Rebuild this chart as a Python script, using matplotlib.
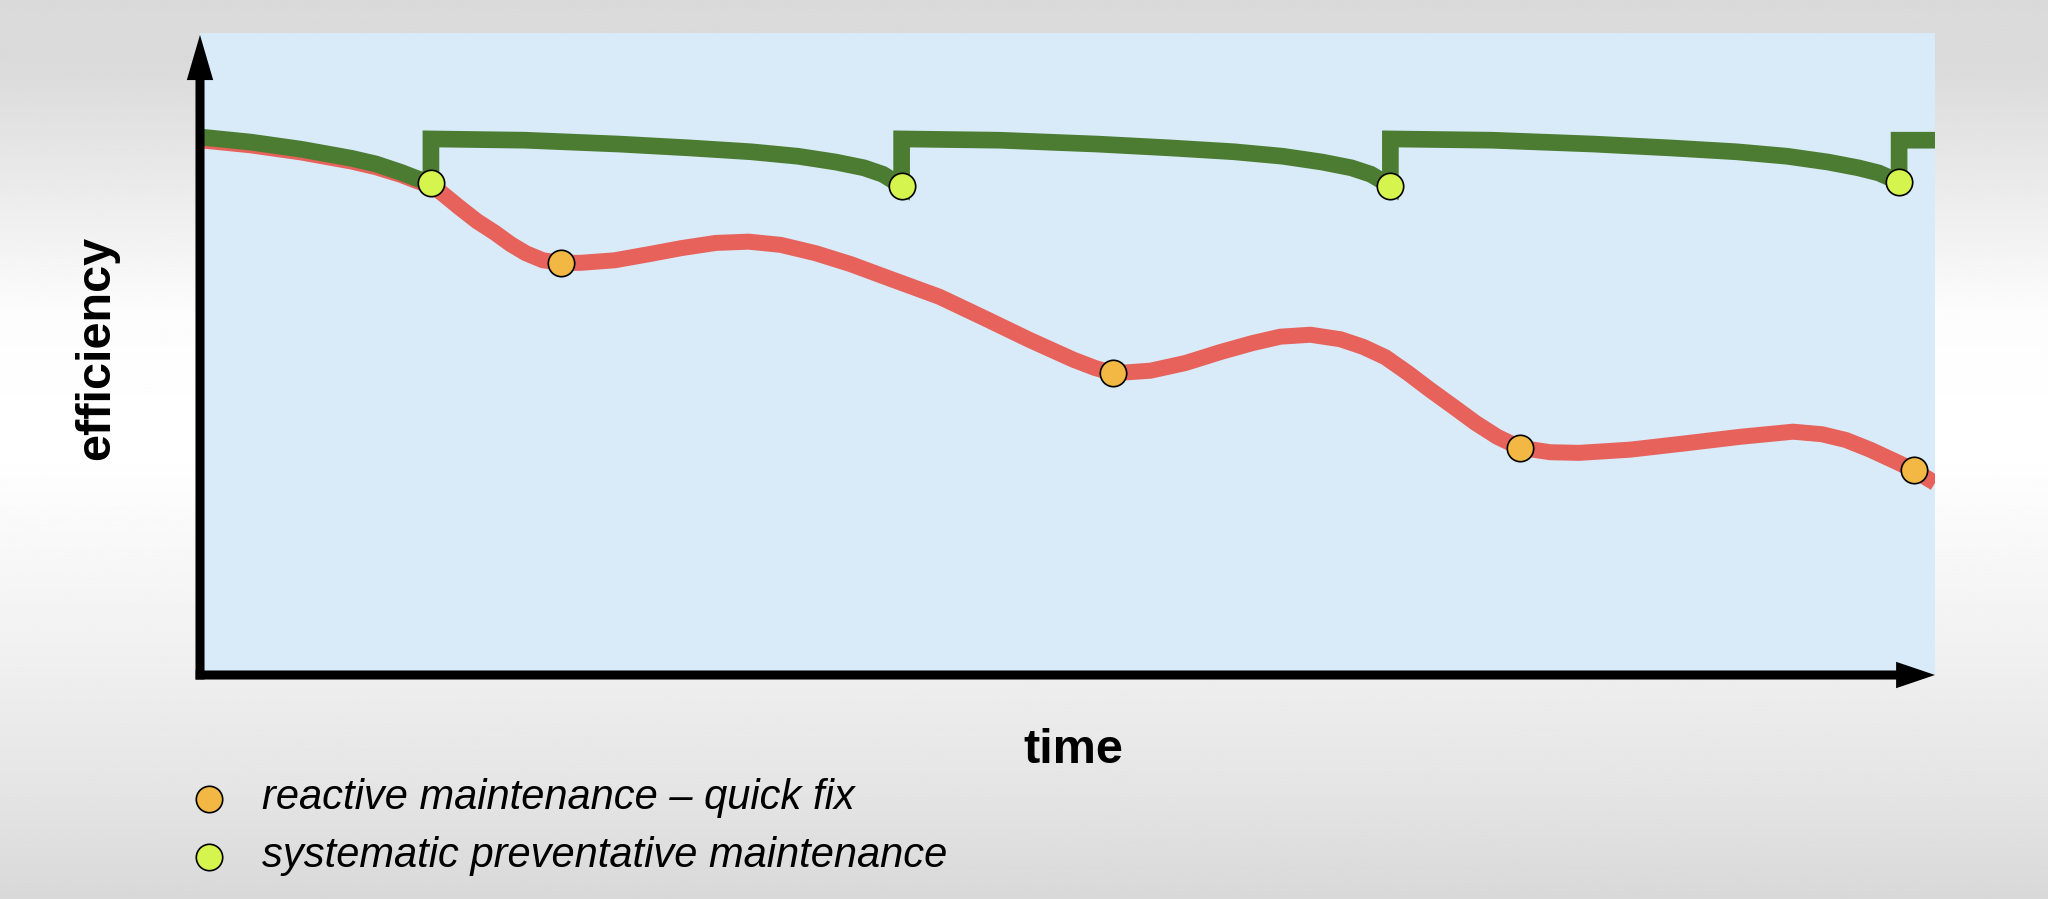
import numpy as np
import matplotlib.pyplot as plt

# reactive maintenance: efficiency drifts down, quick fixes don't restore it
time_red = [0.0, 2.94, 5.82, 8.70, 10.14, 11.58, 12.44, 13.31, 13.88, 14.92, 15.96,
            16.99, 17.91, 18.78, 19.76, 20.80, 21.95, 23.91, 25.98, 27.76, 29.72,
            31.62, 33.47, 35.48, 37.50, 39.80, 42.63, 45.28, 47.81, 50.35, 51.61,
            52.65, 54.78, 56.80, 58.81, 60.66, 62.27, 64.00, 65.73, 67.05, 68.32,
            69.64, 70.91, 72.29, 73.50, 74.77, 76.09, 77.82, 79.49, 82.43, 85.66,
            88.77, 91.82, 93.49, 94.87, 96.26, 97.70, 98.79, 100.0]
eff_red = [83.3, 82.5, 81.4, 80.0, 79.1, 77.9, 77.0, 76.2, 75.2, 72.9, 70.7,
           68.9, 67.1, 65.7, 64.6, 64.2, 64.2, 64.6, 65.6, 66.5, 67.3,
           67.5, 67.0, 65.7, 64.0, 61.7, 58.9, 55.5, 52.2, 49.1, 47.8,
           47.0, 47.4, 48.6, 50.3, 51.7, 52.7, 53.0, 52.3, 51.1, 49.5,
           47.0, 44.4, 41.7, 39.3, 37.1, 35.4, 34.7, 34.6, 35.1, 36.1,
           37.1, 37.9, 37.5, 36.6, 35.1, 33.3, 31.9, 29.9]
quick_fix_t = [20.8, 52.6, 76.1, 98.8]
quick_fix_eff = [64.2, 47.0, 35.4, 31.9]

# preventative maintenance: efficiency restored at every service
time_green = [0.0, 2.94, 5.82, 8.70, 10.14, 11.58, 12.44, 13.31,
              13.31, 18.74, 24.16, 28.23, 31.76, 34.47, 36.64, 38.27, 39.35, 40.44,
              40.44, 46.07, 51.71, 55.93, 59.60, 62.41, 64.67, 66.36, 67.48, 68.61,
              68.61, 74.47, 80.34, 84.74, 88.55, 91.48, 93.83, 95.58, 96.76, 97.93,
              97.93, 100.0]
eff_green = [83.8, 83.0, 81.9, 80.5, 79.6, 78.3, 77.4, 76.6,
             83.5, 83.3, 82.7, 82.1, 81.5, 80.8, 79.9, 79.0, 78.0, 76.2,
             83.5, 83.3, 82.7, 82.1, 81.5, 80.8, 79.9, 79.0, 78.0, 76.2,
             83.5, 83.3, 82.7, 82.1, 81.5, 80.8, 79.9, 79.0, 78.2, 76.8,
             83.3, 83.3]
service_t = [13.31, 40.44, 68.61, 97.93]
service_eff = [76.6, 76.2, 76.2, 76.8]

labels = ["reactive maintenance \u2013 quick fix", "systematic preventative maintenance"]

blue = "#d9eaf9"
green = "#4c7c31"
red = "#e6625b"
orange = "#f3b843"
lime = "#d5f54e"

W, H = 2048, 899
fig = plt.figure(figsize=(W / 100, H / 100), dpi=100)

# background gradient
bg = fig.add_axes([0, 0, 1, 1], zorder=-1)
stops = np.linspace(0, 1, 300)
shade = np.interp(stops, [0, 0.08, 0.35, 0.5, 0.7, 0.87, 1.0],
                  [0.855, 0.86, 0.99, 1.0, 0.95, 0.9, 0.85])
bg.imshow(shade[:, None], aspect="auto", cmap="gray", vmin=0, vmax=1,
          extent=(0, 1, 0, 1))
bg.set_xlim(0, 1)
bg.set_ylim(0, 1)
bg.axis("off")

left, right, top, bottom = 200, 1935, 33, 675
ax = fig.add_axes([left / W, 1 - bottom / H, (right - left) / W, (bottom - top) / H])
ax.set_facecolor(blue)
ax.set_xlim(0, 100)
ax.set_ylim(0, 100)
ax.set_xticks([])
ax.set_yticks([])
for s in ax.spines.values():
    s.set_visible(False)

ax.plot(time_red, eff_red, color=red, lw=11.5, solid_capstyle="butt",
        solid_joinstyle="round", zorder=2)
ax.plot(time_green, eff_green, color=green, lw=12, solid_capstyle="butt",
        solid_joinstyle="miter", zorder=3)
ax.plot(quick_fix_t, quick_fix_eff, "o", ms=19, mfc=orange, mec="black",
        mew=1.2, zorder=4, clip_on=False)
ax.plot(service_t, service_eff, "o", ms=19, mfc=lime, mec="black",
        mew=1.2, zorder=4, clip_on=False)

# axis arrows
ax.annotate("", xy=(1, 0), xytext=(-0.0025, 0), xycoords="axes fraction",
            arrowprops=dict(arrowstyle="simple,head_length=1.12,head_width=0.76,tail_width=0.26",
                            mutation_scale=25, fc="black", ec="black", lw=0,
                            shrinkA=0, shrinkB=0), zorder=5, annotation_clip=False)
ax.annotate("", xy=(0, 0.997), xytext=(0, -0.007), xycoords="axes fraction",
            arrowprops=dict(arrowstyle="simple,head_length=1.3,head_width=0.76,tail_width=0.26",
                            mutation_scale=25, fc="black", ec="black", lw=0,
                            shrinkA=0, shrinkB=0), zorder=5, annotation_clip=False)

fig.text(97 / W, 1 - 348 / H, "efficiency", rotation=90, ha="center", va="center",
         fontsize=35, fontweight="bold", family=["Liberation Sans", "DejaVu Sans"])
fig.text(1073 / W, 1 - 763 / H, "time", ha="center", va="baseline",
         fontsize=35, fontweight="bold", family=["Liberation Sans", "DejaVu Sans"])

# legend
leg_y = [799, 857]
for y, col, lab in zip(leg_y, [orange, lime], labels):
    bg.plot(209 / W, 1 - y / H, "o", ms=19, mfc=col, mec="black", mew=1.2)
    fig.text(262 / W, 1 - (y + 10) / H, lab, ha="left", va="baseline",
             fontsize=30, style="italic", family=["Liberation Sans", "DejaVu Sans"])

fig.savefig("out.png", dpi=100)
